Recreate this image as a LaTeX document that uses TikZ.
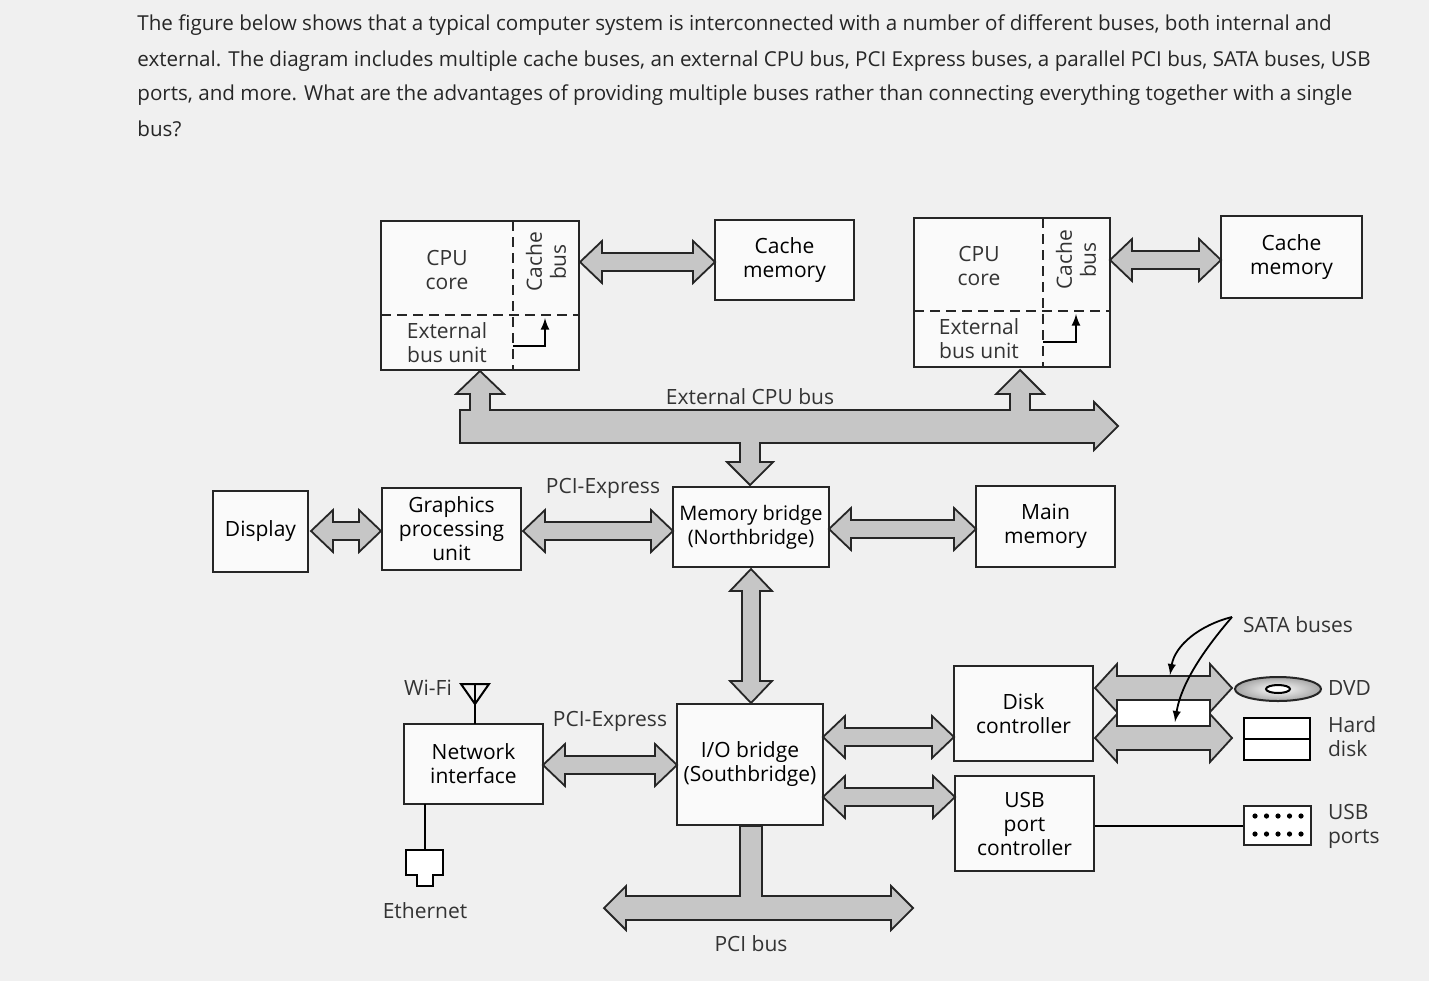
\documentclass[tikz,border=0pt]{standalone}
\usepackage{fontspec}
\setmainfont{Open Sans}
\begin{document}
\begin{tikzpicture}[x=0.5pt,y=-0.5pt,
  box/.style={draw=black!85,line width=1pt,fill=white!96!gray,align=center,inner sep=0pt,font=\fontsize{10.5}{12}\selectfont},
  lab/.style={align=center,font=\fontsize{10.5}{12}\selectfont,text=black!80},
  bus/.style={draw=black!85,line width=0.9pt,fill=gray!45,line join=miter},
  dsh/.style={draw=black!85,line width=1pt,dash pattern=on 5pt off 3pt},
  para/.style={anchor=west,font=\fontsize{10.3}{12}\selectfont,text=black!85,inner sep=0pt}]
\newcommand{\hba}[3]{\draw[bus] (#1,#3) -- ({#1+22},{#3-21}) -- ({#1+22},{#3-9}) -- ({#2-22},{#3-9}) -- ({#2-22},{#3-21}) -- (#2,#3) -- ({#2-22},{#3+21}) -- ({#2-22},{#3+9}) -- ({#1+22},{#3+9}) -- ({#1+22},{#3+21}) -- cycle;}
\newcommand{\vba}[3]{\draw[bus] (#1,#2) -- ({#1-21},{#2+22}) -- ({#1-9},{#2+22}) -- ({#1-9},{#3-22}) -- ({#1-21},{#3-22}) -- (#1,#3) -- ({#1+21},{#3-22}) -- ({#1+9},{#3-22}) -- ({#1+9},{#2+22}) -- ({#1+21},{#2+22}) -- cycle;}
\fill[gray!12] (0,0) rectangle (1429,981);
\useasboundingbox (0,0) rectangle (1429,981);
% paragraph
\node[para] (p1) at (137,25) {The figure below shows that a typical computer system is interconnected with a number of different buses, both internal and};
\node[para] (p2) at (137,61) {external. The diagram includes multiple cache buses, an external CPU bus, PCI Express buses, a parallel PCI bus, SATA buses, USB};
\node[para] (p3) at (137,95) {ports, and more. What are the advantages of providing multiple buses rather than connecting everything together with a single};
\node[para] (p4) at (137,129) {bus?};
% CPU 1
\node[box,minimum width=99pt,minimum height=74.5pt] (cpu1) at (480,295.5) {};
\draw[dsh] (513,221) -- (513,370);
\draw[dsh] (381,315) -- (579,315);
\node[lab] (c1core) at (447,270) {CPU\\core};
\node[lab,rotate=90] (c1cb) at (546,262) {Cache\\bus};
\node[lab] (c1ebu) at (447,343) {External\\bus unit};
\draw[line width=1pt,-latex] (513,346) -- (545,346) -- (545,318);
\node[box,minimum width=69.5pt,minimum height=40pt] (cm1) at (784.5,260) {Cache\\memory};
\hba{580}{715}{262}
% CPU 2
\node[box,minimum width=98pt,minimum height=74.5pt] (cpu2) at (1012,292.5) {};
\draw[dsh] (1043,218) -- (1043,367);
\draw[dsh] (914,311) -- (1110,311);
\node[lab] (c2core) at (979,266) {CPU\\core};
\node[lab,rotate=90] (c2cb) at (1076,260) {Cache\\bus};
\node[lab] (c2ebu) at (979,339) {External\\bus unit};
\draw[line width=1pt,-latex] (1043,342) -- (1076,342) -- (1076,314);
\node[box,minimum width=70.5pt,minimum height=41pt] (cm2) at (1291.5,257) {Cache\\memory};
\hba{1110}{1221}{260}
% External CPU bus
\draw[bus] (460,410) -- (470,410) -- (470,394) -- (456,394) -- (480,371) -- (504,394) -- (490,394) -- (490,410)
 -- (1010,410) -- (1010,394) -- (996,394) -- (1020,370) -- (1044,394) -- (1030,394) -- (1030,410)
 -- (1094,410) -- (1094,402) -- (1118,426) -- (1094,450) -- (1094,443)
 -- (760,443) -- (760,462) -- (773,462) -- (750,485) -- (727,462) -- (740,462) -- (740,443) -- (460,443) -- cycle;
\node[lab] (ecb) at (750,397) {External CPU bus};
% middle row
\node[box,minimum width=47.5pt,minimum height=40.5pt] (disp) at (260.5,531.5) {Display};
\node[box,minimum width=69.5pt,minimum height=41pt] (gpu) at (451.5,529) {Graphics\\processing\\unit};
\node[box,minimum width=78pt,minimum height=40pt,font=\fontsize{10}{12}\selectfont] (mb) at (751,527) {Memory bridge\\(Northbridge)};
\node[box,minimum width=69.5pt,minimum height=40.5pt] (mm) at (1045.5,526.5) {Main\\memory};
\hba{311}{381}{531}
\hba{523}{673}{531}
\hba{829}{976}{529}
\node[lab] (pcie1) at (603,488) {PCI-Express};
\vba{751}{569}{703}
% lower
\node[box,minimum width=73pt,minimum height=60.5pt] (io) at (750,764.5) {I/O bridge\\(Southbridge)};
\node[box,minimum width=69.5pt,minimum height=40pt] (ni) at (473.5,764) {Network\\interface};
\hba{543}{677}{765}
\node[lab] (pcie2) at (610,721) {PCI-Express};
% Wi-Fi
\draw[line width=1pt] (475,724) -- (475,684);
\draw[line width=1pt] (461,684) -- (489,684) -- (475,704) -- cycle;
\node[lab] (wifi) at (428,688) {Wi-Fi};
% Ethernet
\draw[line width=1pt] (425,804) -- (425,850);
\draw[line width=1pt,fill=white] (406,850) -- (443,850) -- (443,875) -- (433,875) -- (433,886) -- (417,886) -- (417,875) -- (406,875) -- cycle;
\node[lab] (eth) at (425,911) {Ethernet};
% PCI bus
\draw[bus] (740,826) -- (762,826) -- (762,896) -- (891,896) -- (891,886) -- (913,908) -- (891,930) -- (891,920) -- (626,920) -- (626,930) -- (604,908) -- (626,886) -- (626,896) -- (740,896) -- cycle;
\node[lab] (pcib) at (751,944) {PCI bus};
% controllers
\node[box,minimum width=69.5pt,minimum height=47.5pt] (dc) at (1023.5,713.5) {Disk\\controller};
\node[box,minimum width=69.5pt,minimum height=47.5pt] (usbc) at (1024.5,823.5) {USB\\port\\controller};
\hba{823}{954}{737}
\hba{823}{955}{797}
% SATA
\draw[line width=0.9pt,fill=white] (1117,700) rectangle (1210,726);
\draw[bus] (1095,688) -- (1117,664) -- (1117,676) -- (1210,676) -- (1210,664) -- (1232,688) -- (1210,712) -- (1210,700) -- (1117,700) -- (1117,712) -- cycle;
\draw[bus] (1095,738) -- (1117,714) -- (1117,726) -- (1210,726) -- (1210,714) -- (1232,738) -- (1210,762) -- (1210,750) -- (1117,750) -- (1117,762) -- cycle;
\node[lab,anchor=west] (sata) at (1236,625) {SATA buses};
\coordinate (s1) at (1170,675);
\coordinate (s2) at (1175,722);
\draw[line width=0.9pt,-latex] (1232,617) .. controls (1200,625) and (1175,645) .. (s1);
\draw[line width=0.9pt,-latex] (1232,617) .. controls (1195,660) and (1180,690) .. (s2);
% DVD
\shade[draw=black!85,line width=1pt,inner color=white,outer color=gray!70] (1278,689) ellipse [x radius=43,y radius=12];
\draw[line width=1pt,fill=white] (1278,689) ellipse [x radius=12,y radius=4];
\node[lab,anchor=west] (dvd) at (1321,688) {DVD};
% hard disk
\draw[line width=1pt,fill=white] (1244,718) rectangle (1310,760);
\draw[line width=1pt] (1244,739) -- (1310,739);
\node[lab,anchor=west,align=left] (hd) at (1321,737) {Hard\\disk};
% USB ports
\node[draw=black!85,line width=1pt,fill=white,minimum width=33.5pt,minimum height=19.5pt] (usbp) at (1277.5,825.5) {};
\foreach \i in {0,...,4} {
 \fill (1255+\i*11.5,816) circle (2.6);
 \fill (1255+\i*11.5,834) circle (2.6);}
\draw[line width=1pt] (usbc.east |- usbp.west) -- (usbp.west);
\node[lab,anchor=west,align=left] (usbt) at (1321,826) {USB\\ports};
\end{tikzpicture}
\end{document}
